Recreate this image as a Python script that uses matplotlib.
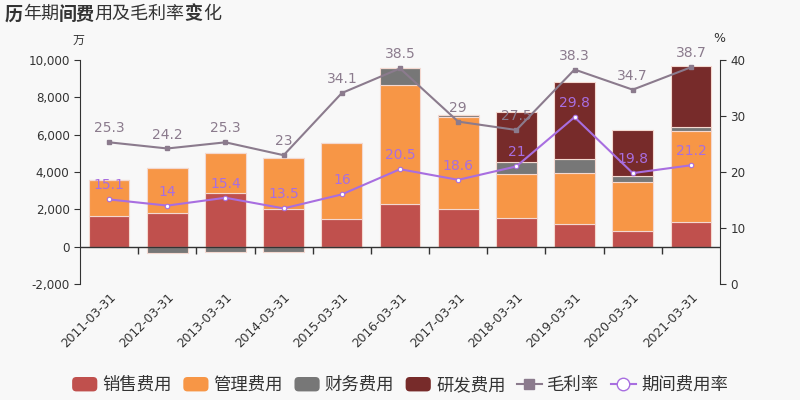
import matplotlib.pyplot as plt
import numpy as np
from matplotlib.patches import Patch, FancyBboxPatch
from matplotlib.lines import Line2D
from matplotlib.legend_handler import HandlerPatch

plt.rcParams['font.family'] = ['DejaVu Sans', 'Noto Sans CJK SC']
cjk = ['Noto Sans CJK SC', 'DejaVu Sans']

# data (万元 / %)
dates = ['2011-03-31', '2012-03-31', '2013-03-31', '2014-03-31', '2015-03-31',
         '2016-03-31', '2017-03-31', '2018-03-31', '2019-03-31', '2020-03-31',
         '2021-03-31']
sales = [1620, 1780, 2900, 2000, 1500, 2260, 2000, 1550, 1230, 820, 1340]
admin = [1925, 2445, 2125, 2740, 4030, 6385, 4970, 2335, 2690, 2620, 4865]
finance = [20, -320, -260, -285, -90, 910, 90, 640, 785, 355, 215]
rnd = [0, 0, 0, 0, 0, 0, 0, 2690, 4100, 2445, 3245]
gross_margin = [25.3, 24.2, 25.3, 23, 34.1, 38.5, 29, 27.5, 38.3, 34.7, 38.7]
expense_rate = [15.1, 14, 15.4, 13.5, 16, 20.5, 18.6, 21, 29.8, 19.8, 21.2]

# title pieces (some glyphs render bold in the original)
title_parts = [('历', 'bold'), ('年期', 'normal'), ('间费', 'bold'),
               ('用及毛利率', 'normal'), ('变', 'bold'), ('化', 'normal')]

c_sales = '#c0504d'
c_admin = '#f79646'
c_fin = '#777777'
c_rnd = '#772b2a'
c_gm = '#8b7b8d'
c_er = '#a86ee0'
c_txt = '#333333'
bg = '#f8f8f8'

fig = plt.figure(figsize=(8, 4), dpi=100, facecolor=bg)
ax = fig.add_axes([0.1, 0.29, 0.8, 0.56], facecolor=bg)
ax2 = ax.twinx()

x = np.arange(len(dates))
w = 0.7
edge = dict(edgecolor='#f4d8d0', linewidth=0.8)

ax.bar(x, sales, w, color=c_sales, **edge)
ax.bar(x, admin, w, bottom=sales, color=c_admin, **edge)
pos_base = [s + a for s, a in zip(sales, admin)]
fin_bottom = [pb if f >= 0 else 0 for pb, f in zip(pos_base, finance)]
ax.bar(x, finance, w, bottom=fin_bottom, color=c_fin, **edge)
rnd_bottom = [pb + max(f, 0) for pb, f in zip(pos_base, finance)]
ax.bar(x, rnd, w, bottom=rnd_bottom, color=c_rnd, **edge)

# zero line with ticks between categories
bounds = np.arange(len(dates) + 1) - 0.5
ax.axhline(0, color=c_txt, lw=1, zorder=3)
ax.plot(bounds[1:-1], np.zeros(len(bounds) - 2), linestyle='none', marker=3,
        ms=5, mew=1, color=c_txt, zorder=3, clip_on=False)

ax.set_xlim(-0.5, len(dates) - 0.5)
ax.set_ylim(-2000, 10000)
ax.set_yticks(range(-2000, 10001, 2000))
ax.set_yticklabels([f'{v:,}' for v in range(-2000, 10001, 2000)])
ax.set_xticks(x)
ax.set_xticklabels(dates, rotation=45, ha='right', va='top', rotation_mode='anchor')
ax.tick_params(axis='x', length=0, pad=5, labelsize=8.8, labelcolor=c_txt)
ax.tick_params(axis='y', length=4, labelsize=8.6, color=c_txt, labelcolor=c_txt)

for s in ['top', 'right', 'bottom']:
    ax.spines[s].set_visible(False)
ax.spines['left'].set_color(c_txt)

ax2.set_ylim(0, 40)
ax2.set_yticks(range(0, 41, 10))
ax2.tick_params(axis='y', labelsize=8.6, color=c_txt, labelcolor=c_txt, length=4)
for s in ['top', 'left', 'bottom']:
    ax2.spines[s].set_visible(False)
ax2.spines['right'].set_color(c_txt)

ax2.plot(x, gross_margin, color=c_gm, lw=1.5, marker='s', ms=2.8, zorder=5)
ax2.plot(x, expense_rate, color=c_er, lw=1.5, marker='o', ms=3.2,
         mfc='white', mec=c_er, mew=0.8, zorder=5)
for xi, v in zip(x, gross_margin):
    ax2.annotate(f'{v:g}', (xi, v), xytext=(0, 5), textcoords='offset points',
                 ha='center', va='bottom', fontsize=10, color=c_gm, zorder=4)
for xi, v in zip(x, expense_rate):
    ax2.annotate(f'{v:g}', (xi, v), xytext=(0, 5), textcoords='offset points',
                 ha='center', va='bottom', fontsize=10, color=c_er, zorder=4)

fig.text(0.098, 0.9, '万', ha='center', va='center', fontsize=8.6, color=c_txt,
         family=cjk)
fig.text(0.899, 0.905, '%', ha='center', va='center', fontsize=9, color=c_txt)

# title, each piece placed right after the previous one
anchor = fig.text(0.006, 0.965, title_parts[0][0], ha='left', va='center',
                  fontsize=13, color=c_txt, family=cjk, weight=title_parts[0][1])
for txt, wt in title_parts[1:]:
    anchor = fig.add_artist(
        plt.Annotation(txt, xy=(1, 0.5), xycoords=anchor, ha='left', va='center',
                       fontsize=13, color=c_txt, family=cjk, weight=wt))


def rounded_patch(legend, orig_handle, xdescent, ydescent, width, height, fontsize):
    return FancyBboxPatch((-xdescent, -ydescent), width, height,
                          boxstyle='round,pad=0,rounding_size=3')


handles = [
    Patch(facecolor=c_sales, label='销售费用'),
    Patch(facecolor=c_admin, label='管理费用'),
    Patch(facecolor=c_fin, label='财务费用'),
    Patch(facecolor=c_rnd, label='研发费用'),
    Line2D([], [], color=c_gm, marker='s', ms=7, lw=1.5, label='毛利率'),
    Line2D([], [], color=c_er, marker='o', ms=9, mfc='white', mec=c_er,
           lw=1.5, label='期间费用率'),
]
fig.legend(handles=handles, loc='center', bbox_to_anchor=(0.5, 0.037),
           ncol=6, frameon=False, prop={'family': cjk, 'size': 12.5},
           handlelength=1.45, handleheight=0.9, handletextpad=0.3,
           columnspacing=0.65, labelcolor=c_txt,
           handler_map={Patch: HandlerPatch(patch_func=rounded_patch)})

fig.savefig('out.png', dpi=100, facecolor=bg)
